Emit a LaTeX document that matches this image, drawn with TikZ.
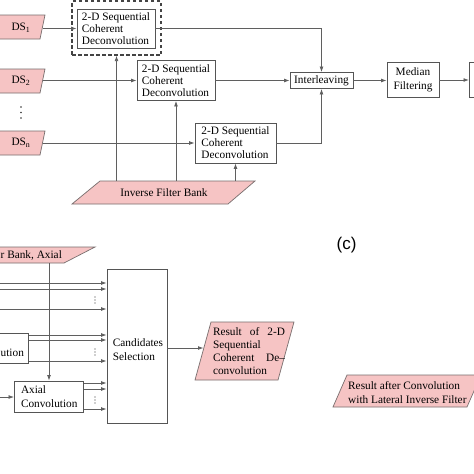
\documentclass[tikz,border=0pt]{standalone}
\usepackage{fontspec}
\setmainfont{Liberation Serif}
\newfontfamily\labfont{Liberation Sans}
\usetikzlibrary{arrows.meta,calc}
\definecolor{pinkfill}{RGB}{246,196,196}
\definecolor{pgline}{RGB}{120,110,110}
\definecolor{boxc}{RGB}{85,85,85}
\definecolor{lin}{RGB}{95,95,95}
\begin{document}
\begin{tikzpicture}[x=1pt,y=-1pt,
  every node/.style={font=\fontsize{11.3}{12}\selectfont, inner sep=0pt},
  box/.style={draw=boxc, line width=0.8pt, fill=white},
  dbox/.style={draw=boxc!80!black, line width=1.2pt, dash pattern=on 3.5pt off 2.5pt},
  pg/.style={fill=pinkfill, draw=pgline, line width=0.7pt},
  conn/.style={draw=lin, line width=0.75pt},
  arr/.style={conn, -{Latex[length=5.5pt,width=3.8pt]}},
  dotc/.style={fill=black!80},
  scd/.style={box, align=left, font=\fontsize{11.3}{12}\selectfont},
]
\useasboundingbox (0,0) rectangle (474,474);
\fill[white] (0,0) rectangle (474,474);
\clip (0,0) rectangle (474,474);

% ---------- upper diagram ----------
\filldraw[pg] (-15,39) -- (40,39) -- (45,15) -- (-10,15) -- cycle;
\node (ds1) at (21,28) {DS\textsubscript{1}};
\coordinate (ds1r) at (42.5,28.5);
\filldraw[pg] (-15,93) -- (40,93) -- (45,69) -- (-10,69) -- cycle;
\node (ds2) at (21,81) {DS\textsubscript{2}};
\coordinate (ds2r) at (42.5,80.5);
\filldraw[pg] (-15,155) -- (40,155) -- (45,131) -- (-10,131) -- cycle;
\node (dsn) at (21,143) {DS\textsubscript{n}};
\coordinate (dsnr) at (42.5,143);
\foreach \y in {107,112.5,118} \fill[dotc] (21,\y) circle (0.9pt);

\node[dbox, minimum width=89pt, minimum height=54pt] (b1d) at (116.5,28) {};
\node[scd, minimum width=78pt, minimum height=39pt] (b1) at (116,28.5) {2-D Sequential\\Coherent\\Deconvolution};
\node[scd, minimum width=78pt, minimum height=40pt] (b2) at (176,80.5) {2-D Sequential\\Coherent\\Deconvolution};
\node[scd, minimum width=81pt, minimum height=40pt] (b3) at (235.5,143) {2-D Sequential\\Coherent\\Deconvolution};

\filldraw[pg] (72,204) -- (228,204) -- (255,181) -- (100,181) -- cycle;
\node (ifb) at (164,193) {Inverse Filter Bank};
\coordinate (ifbt) at (164,181);

\node[box, minimum width=63pt, minimum height=16pt] (il) at (321.5,80.5) {Interleaving};
\node[box, minimum width=52pt, minimum height=35pt, align=center, font=\fontsize{11.3}{14.5}\selectfont] (med) at (413,80) {Median\\Filtering};
\node[box, minimum width=60pt, minimum height=35pt, anchor=west] (nx) at (469,80) {};

\draw[arr] (ds1r) -- (ds1r -| b1.west);
\draw[arr] (ds2r) -- (ds2r -| b2.west);
\draw[arr] (dsnr) -- (dsnr -| b3.west);
\draw[arr] (b1d.south |- ifbt) -- (b1d.south);
\draw[arr] (b2.south |- ifbt) -- (b2.south);
\draw[arr] (b3.south |- ifbt) -- (b3.south);
\draw[arr] (b1.east) -| (il.north);
\draw[arr] (b2.east) -- (il.west);
\draw[arr] (b3.east) -| (il.south);
\draw[arr] (il.east) -- (il.east -| med.west);
\draw[arr] (med.east) -- (nx.west);

\node[font=\labfont\fontsize{17}{19}\selectfont] (lab) at (346.5,245.5) {(c)};

% ---------- lower diagram ----------
\filldraw[pg] (-40,263) -- (64,263) -- (95,247) -- (-10,247) -- cycle;
\node[anchor=west] (fba) at (0.5,255) {r Bank, Axial};
\coordinate (fbab) at (49,263);

\node[box, minimum width=60pt, minimum height=154pt] (cs) at (137,346) {};
\node[align=left, font=\fontsize{11.3}{14}\selectfont] (cstxt) at (138,350) {Candidates\\Selection};

\node[box, minimum width=60pt, minimum height=30pt, anchor=east] (ut) at (29,348) {};
\node[anchor=west] (uttxt) at (0.5,353) {ution};

\node[box, minimum width=69pt, minimum height=31pt, text width=56pt, align=left, font=\fontsize{11.3}{14}\selectfont] (ax) at (49,396.5) {Axial\\Convolution};

\draw[arr] (fbab) -- (ax.north);
\foreach \y in {283,289,309} \draw[arr] (-2,\y) -- (cs.west |- 0,\y);
\foreach \y in {335,340,361} \draw[arr] (ut.east |- 0,\y) -- (cs.west |- 0,\y);
\foreach \y in {383,389,409} \draw[arr] (ax.east |- 0,\y) -- (cs.west |- 0,\y);
\draw[arr] (-2,397) -- (ax.west |- 0,397);
\foreach \y in {297,300,303} \fill[dotc] (95,\y) circle (0.7pt);
\foreach \y in {349,352,355} \fill[dotc] (95,\y) circle (0.7pt);
\foreach \y in {397,400,403} \fill[dotc] (95,\y) circle (0.7pt);

\filldraw[pg] (195,380) -- (278,380) -- (294,322) -- (211,322) -- cycle;
\node[text width=72pt, align=left, font=\fontsize{11.3}{13}\selectfont] (res) at (249,351.5) {Result\hfill of\hfill 2-D\\Sequential\\Coherent\hfill De--\\convolution};
\coordinate (resl) at (203.5,348);
\draw[arr] (cs.east |- resl) -- (resl);

\filldraw[pg] (333,407) -- (467,407) -- (481,375) -- (347,375) -- cycle;
\node[anchor=west, align=left, font=\fontsize{11.3}{14}\selectfont] (res2) at (348,393) {Result after Convolution\\with Lateral Inverse Filter};
\end{tikzpicture}
\end{document}
